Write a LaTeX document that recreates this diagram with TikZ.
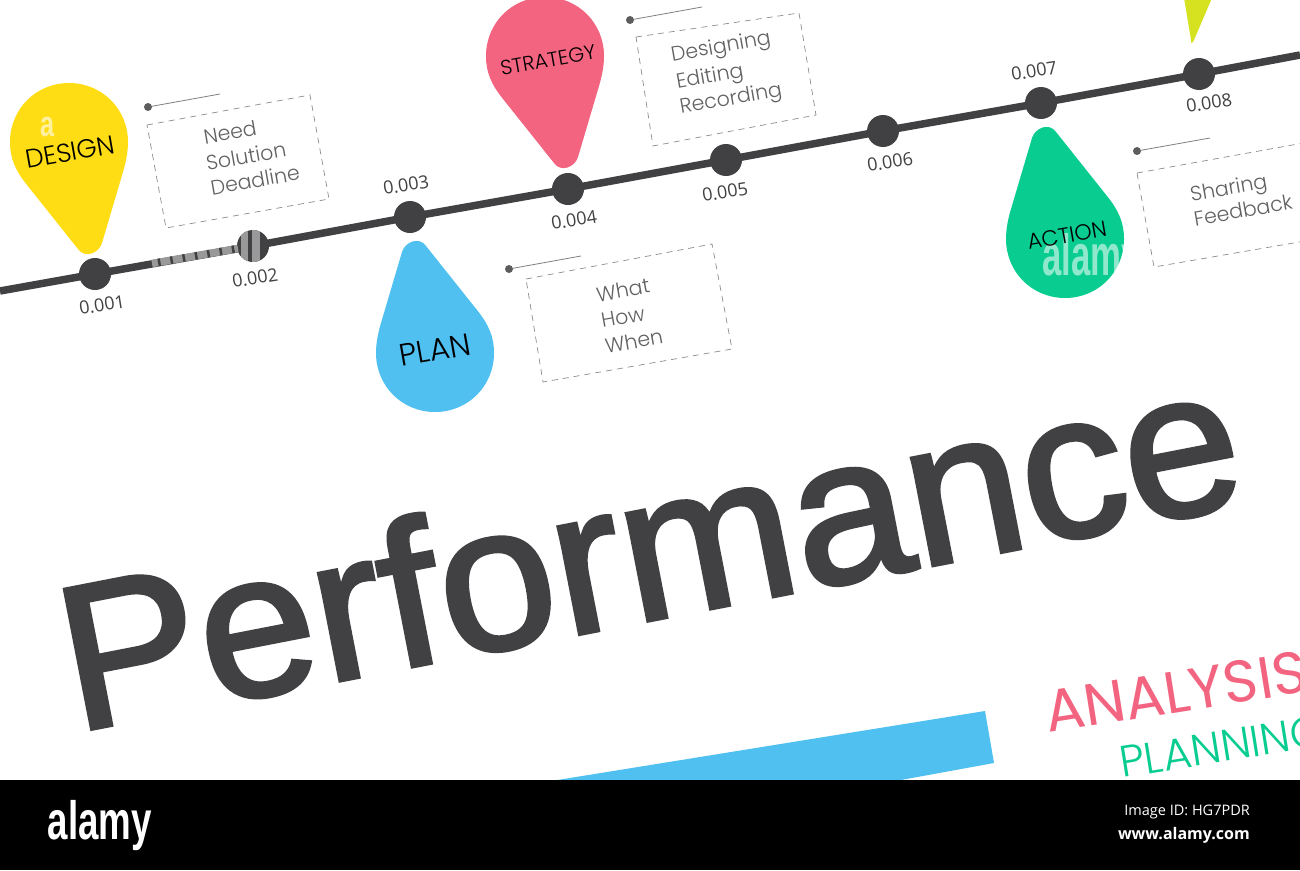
\documentclass[tikz,border=0pt]{standalone}
\usepackage{fontspec}
\setmainfont{Open Sans}
\newfontfamily\geo{Poppins Light}
\newfontfamily\geob{Poppins}
\newfontfamily\arial{Liberation Sans}
\newfontfamily\arialfat[FakeBold=2]{Liberation Sans}
\definecolor{dk}{HTML}{414042}
\definecolor{cyellow}{HTML}{FFDD15}
\definecolor{cpink}{HTML}{F2647F}
\definecolor{cblue}{HTML}{4FC0F0}
\definecolor{cgreen}{HTML}{08CC90}
\definecolor{clime}{HTML}{D6E21F}
\newcommand\dropshape{(9,107) -- (-42,43) .. controls (-54,28) and (-59,16) .. (-59,0) .. controls (-59,-33) and (-33,-59) .. (0,-59) .. controls (33,-59) and (59,-33) .. (59,0) .. controls (59,10) and (57,20) .. (54,30) -- (33,101) .. controls (30,111) and (16,117) .. (9,107) -- cycle}
\tikzset{
 x=1pt,y=-1pt,
 pt/.style={circle,fill=dk,inner sep=0,minimum size=32},
 num/.style={font=\fontsize{18}{18}\selectfont,text=dk,rotate=9,inner sep=0},
 pinlab/.style={text=black,rotate=10,inner sep=0},
 note/.style={font=\geo\fontsize{20.5}{20.5}\selectfont,text=black!62,rotate=10,inner sep=0},
 box/.style={draw=black!45,dashed,line width=0.7,dash pattern=on 6pt off 5pt},
 lead/.style={draw=black!50,line width=0.8},
 ldot/.style={circle,fill=dk!85,inner sep=0,minimum size=8},
}
\begin{document}
\begin{tikzpicture}
\clip (0,0) rectangle (1300,870);
\fill[white] (0,0) rectangle (1300,870);
% line and points
\coordinate (ls) at (0,291); \coordinate (le) at (1300,55);
\node[pt] (p1) at (95,274) {}; \node[pt] (p2) at (253,246) {};
\node[pt] (p3) at (410,217) {}; \node[pt] (p4) at (568,189) {};
\node[pt] (p5) at (726,160) {}; \node[pt] (p6) at (883,131) {};
\node[pt] (p7) at (1041,103) {}; \node[pt] (p8) at (1199,74) {};
\draw[dk,line width=7.5] (ls) -- (p1.center) -- (p2.center) -- (p3.center) -- (p4.center) -- (p5.center) -- (p6.center) -- (p7.center) -- (p8.center) -- (le);
% watermark trace across the line and the second point
\draw[black!40,line width=7.5] (152,263.5) -- (238,248.5);
\draw[dk,line width=7.5,dash pattern=on 2.5pt off 10pt] (158,262.5) -- (238,248.5);
\begin{scope}
\clip (p2) circle (16);
\fill[black!40] (241,230) rectangle (248,262);
\fill[black!40] (252,230) rectangle (260,262);
\end{scope}
\node[num] (n1) at (102,305) {0.001};
\node[num] (n2) at (255,278) {0.002};
\node[num] (n3) at (406,185) {0.003};
\node[num] (n4) at (574,220) {0.004};
\node[num] (n5) at (725,192) {0.005};
\node[num] (n6) at (890,162) {0.006};
\node[num] (n7) at (1034,71) {0.007};
\node[num] (n8) at (1209,103) {0.008};
% pins
\fill[cyellow,shift={(69,142)}] \dropshape;
\fill[cpink,shift={(545,56)}] \dropshape;
\fill[cblue,shift={(435,353)},rotate=180] \dropshape;
\fill[cgreen,shift={(1065,239)},rotate=180] \dropshape;
\fill[clime] (1184,-2) -- (1212,-2) -- (1194,40) .. controls (1192,44) and (1191,44) .. (1191,40) -- cycle;
\node[font=\arial\bfseries\fontsize{36}{36}\selectfont,text=white,opacity=.6,xscale=.7,inner sep=0] (wa) at (48,127) {a};
\begin{scope}
\clip[shift={(1065,239)},rotate=180] \dropshape;
\node[font=\arial\bfseries\fontsize{58}{58}\selectfont,text=white,opacity=.55,inner sep=0,anchor=base west,xscale=.6] (wb) at (1042,275) {alamy};
\end{scope}
\node[pinlab,font=\geo\fontsize{26}{26}\selectfont] (design) at (70,152) {DESIGN};
\node[pinlab,font=\geo\fontsize{20.5}{20.5}\selectfont] (strategy) at (548,60) {STRATEGY};
\node[pinlab,font=\geo\fontsize{31}{31}\selectfont] (plan) at (435,350) {PLAN};
\node[pinlab,font=\geo\fontsize{22}{22}\selectfont] (action) at (1067,235) {ACTION};
% note boxes
\draw[box] (147,125) -- (310,95) -- (329,199) -- (166,228) -- cycle;
\draw[box] (636,37) -- (799,13) -- (816,115) -- (653,146) -- cycle;
\draw[box] (526,279) -- (712,244) -- (732,349) -- (543,382) -- cycle;
\draw[box] (1137,173) -- (1320,140) -- (1340,235) -- (1154,267) -- cycle;
\node[ldot] (d1) at (148,107) {}; \coordinate (e1) at (220,94); \draw[lead] (d1) -- (e1);
\node[ldot] (d2) at (630,20) {}; \coordinate (e2) at (702,7); \draw[lead] (d2) -- (e2);
\node[ldot] (d3) at (509,269) {}; \coordinate (e3) at (581,256); \draw[lead] (d3) -- (e3);
\node[ldot] (d4) at (1137,151) {}; \coordinate (e4) at (1210,138); \draw[lead] (d4) -- (e4);
\node[note] (t1) at (230,132) {Need};
\node[note] (t2) at (246,156) {Solution};
\node[note] (t3) at (255,180) {Deadline};
\node[note] (t4) at (721,48) {Designing};
\node[note] (t5) at (710,78) {Editing};
\node[note] (t6) at (731,100) {Recording};
\node[note] (t7) at (623,290) {What};
\node[note] (t8) at (623,317) {How};
\node[note] (t9) at (634,341) {When};
\node[note] (t10) at (1229,190) {Sharing};
\node[note] (t11) at (1243,210) {Feedback};
% big word
\node[font=\arialfat\fontsize{206}{206}\selectfont,text=dk,rotate=11,xscale=1.015,anchor=base west,inner sep=0] (perf) at (75,732) {Performance};
\fill[cblue] (545,782) -- (985,711) -- (994,763) -- (890,782) -- cycle;
\node[font=\geob\fontsize{59}{59}\selectfont,text=cpink,rotate=9,anchor=base west,inner sep=0] (ana) at (1048,733) {ANALYSIS};
\node[font=\geo\fontsize{44}{44}\selectfont,text=cgreen,rotate=9,anchor=base west,inner sep=0] (pla) at (1122,778) {PLANNING};
% band
\fill[black] (0,780) rectangle (1300,870);
\node[font=\arial\bfseries\fontsize{54}{54}\selectfont,text=white,xscale=.68,inner sep=0] (logo) at (100,826) {alamy};
\node[font=\fontsize{14.5}{14.5}\selectfont,text=white,anchor=east,inner sep=0] (id) at (1250,812) {Image ID: HG7PDR};
\node[font=\bfseries\fontsize{16}{16}\selectfont,text=white,anchor=east,inner sep=0] (www) at (1250,835) {www.alamy.com};
\end{tikzpicture}
\end{document}
